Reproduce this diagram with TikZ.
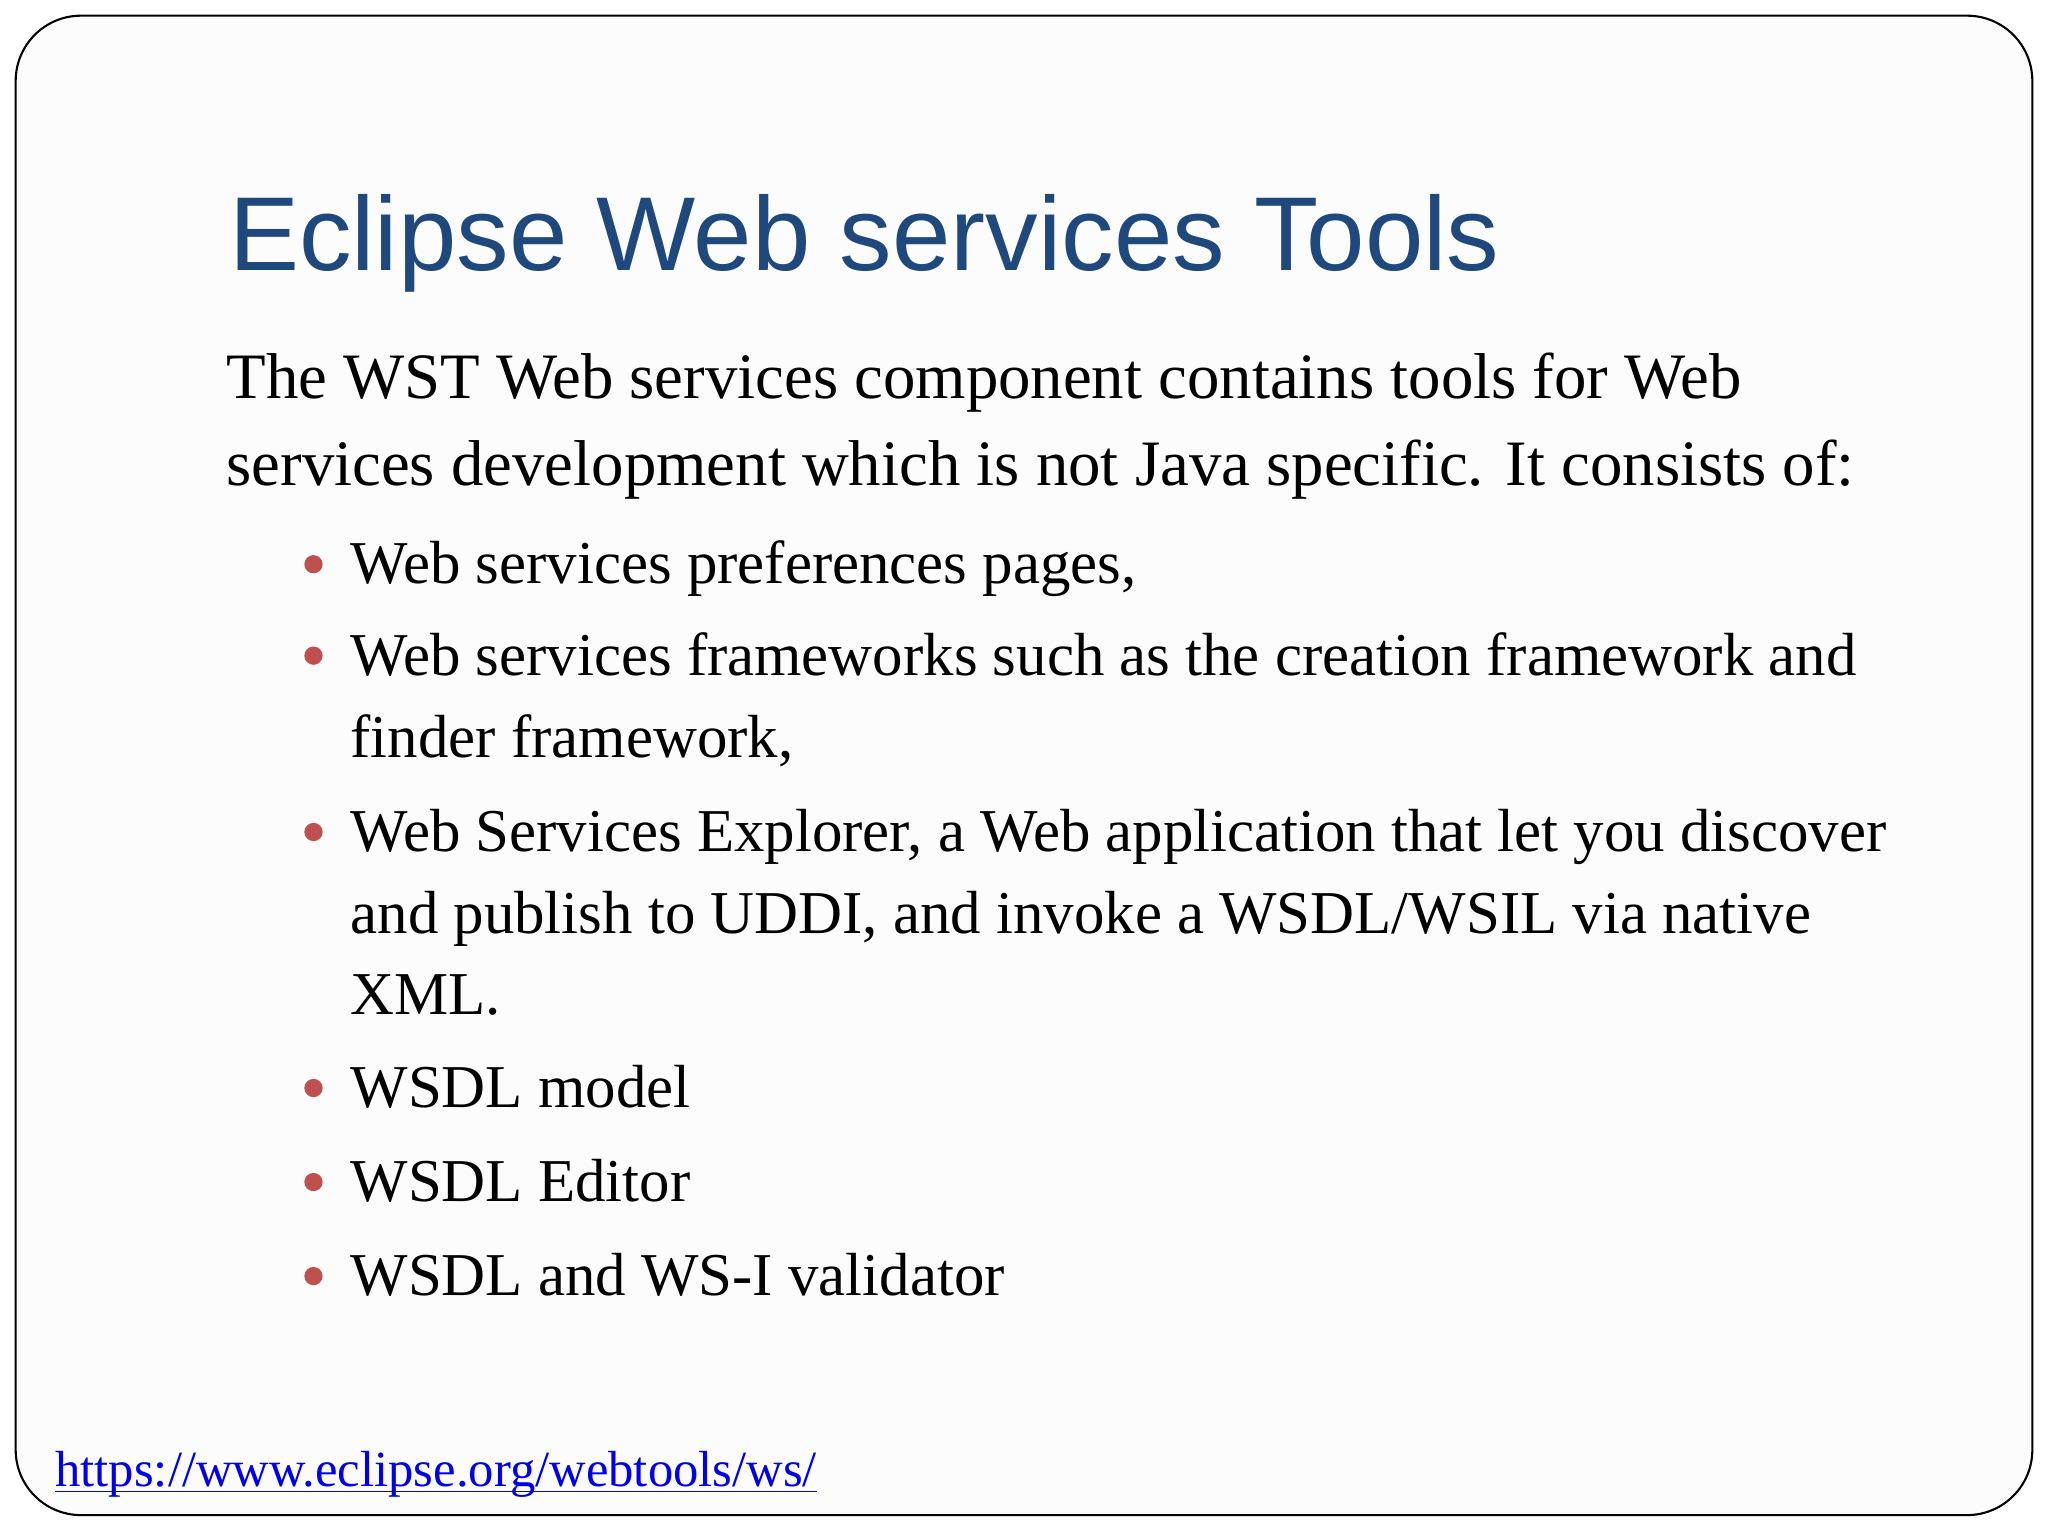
\documentclass[tikz,border=0pt]{standalone}
\usepackage{fontspec}
\setmainfont{Liberation Serif}
\newfontfamily\titlefont{Liberation Sans}
\definecolor{titleblue}{RGB}{31,73,125}
\definecolor{bulletred}{RGB}{192,80,77}
\definecolor{linkblue}{RGB}{0,0,238}
\begin{document}
\begin{tikzpicture}[x=0.5pt,y=-0.5pt,
  intro/.style={anchor=base west,inner sep=0,font=\fontsize{24.8}{28}\selectfont},
  body/.style={anchor=base west,inner sep=0,font=\fontsize{23.3}{27}\selectfont},
  dot/.style={circle,fill=bulletred,inner sep=0,minimum size=7pt}]
\useasboundingbox (0,0) rectangle (1568,1176);
\fill[white] (0,0) rectangle (1568,1176);
\draw[line width=0.8pt,rounded corners=25pt,fill=black!1] (12,12) rectangle (1556,1160);
\node[anchor=base west,inner sep=0,text=titleblue,font=\titlefont\fontsize{40.2}{44}\selectfont] (title) at (175,207) {Eclipse Web services Tools};
\node[intro] (l1) at (173,305) {The WST Web services component contains tools for Web};
\node[intro] (l2) at (173,372) {services development which is not Java specific. It consists of:};
\foreach \n/\y/\t in {
 b1/447/{Web services preferences pages,},
 b2/517/{Web services frameworks such as the creation framework and},
 b3/652/{Web Services Explorer, a Web application that let you discover},
 b4/848/{WSDL model},
 b5/920/{WSDL Editor},
 b6/992/{WSDL and WS-I validator}}{
  \node[dot] (d\n) at (240,\y-15) {};
  \node[body] (\n) at (268,\y) {\t};
}
\node[body] (b2b) at (268,580) {finder framework,};
\node[body] (b3b) at (268,715) {and publish to UDDI, and invoke a WSDL/WSIL via native};
\node[body] (b3c) at (268,777) {XML.};
\node[anchor=base west,inner sep=0,text=linkblue,font=\fontsize{19.4}{22}\selectfont] (url) at (42,1138) {https://www.eclipse.org/webtools/ws/};
\draw[linkblue,line width=0.6pt] ([yshift=-2pt]url.base west) -- ([yshift=-2pt]url.base east);
\end{tikzpicture}
\end{document}
